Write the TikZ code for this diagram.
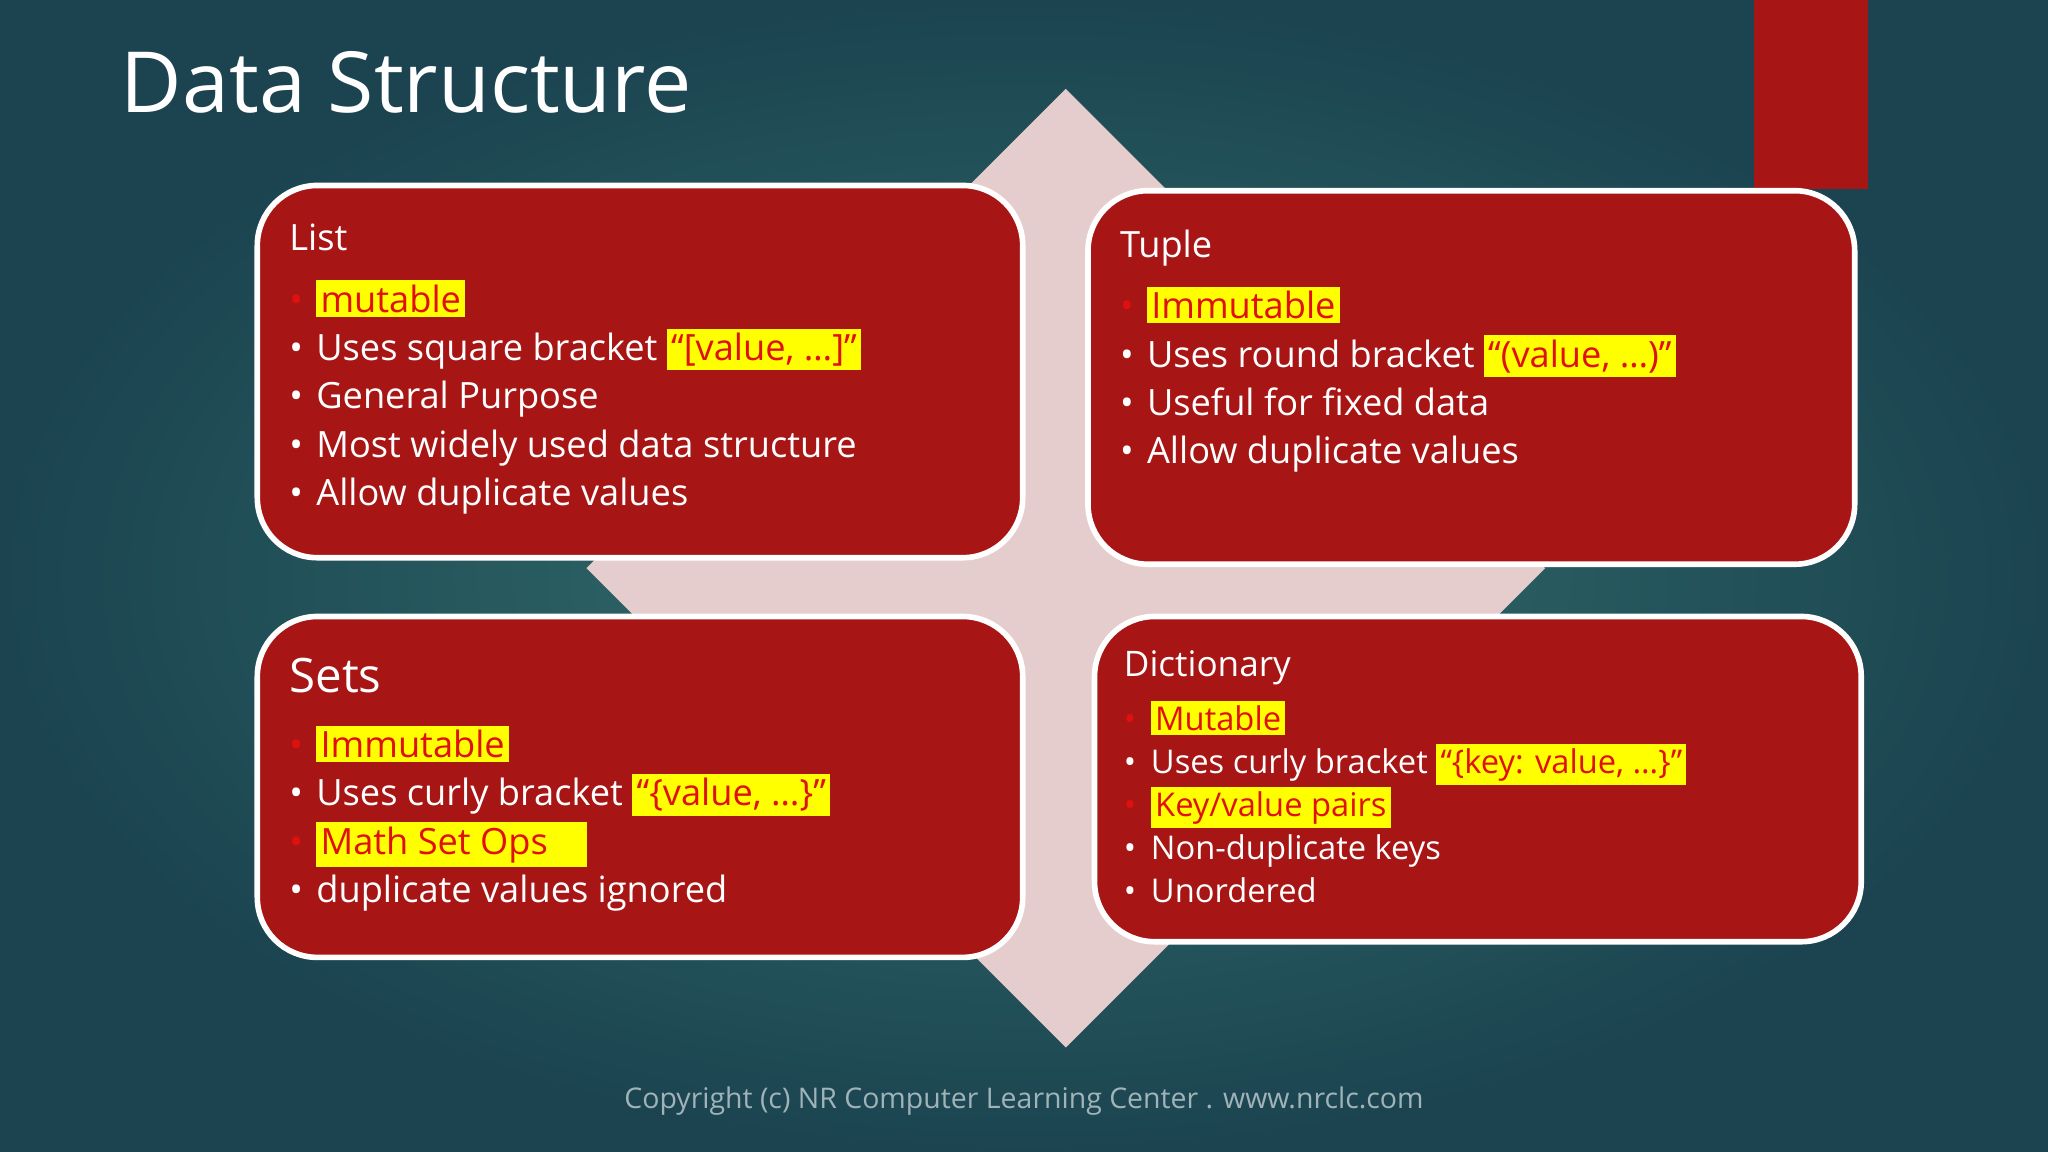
\documentclass[tikz,border=0pt]{standalone}
\usepackage{fontspec}
\setmainfont{Open Sans}
\usetikzlibrary{positioning,calc,math}
\definecolor{bgdark}{HTML}{1B4450}
\definecolor{bglight}{HTML}{34706F}
\definecolor{boxred}{HTML}{A81515}
\definecolor{diam}{HTML}{E6CDCD}
\definecolor{hly}{HTML}{FFFF00}
\definecolor{hlr}{HTML}{E01010}
\definecolor{foot}{HTML}{9FB3B8}
\newcommand{\hl}[1]{{\setlength{\fboxsep}{1.2pt}\colorbox{hly}{\textcolor{hlr}{#1}}}}
\newcommand{\itm}[2]{\hbox to 0.27cm{\textcolor{#1}{\textbullet}\hss}#2}
\tikzset{
    card/.style={draw=white, line width=1.6pt, fill=boxred, rounded corners=0.6cm},
    line/.style={anchor=base west, inner sep=0pt, text=white, font=\fontsize{10.3}{12}\selectfont},
    dline/.style={line, font=\fontsize{9.3}{11}\selectfont},
}
\begin{document}
\begin{tikzpicture}[x=0.013061cm, y=-0.013061cm]

  % background
  \shade[inner color=bglight, outer color=bgdark] (0,0) rectangle (1568,882);
  \useasboundingbox (0,0) rectangle (1568,882);

  % title and red tab
  \node[anchor=base west, inner sep=0pt, text=white, font=\fontsize{24}{28}\selectfont] (title) at (92,86) {Data Structure};
  \fill[boxred] (1343,0) rectangle (1430,145);

  % diamond behind the cards
  \fill[diam] (816,68) -- (1183,435) -- (816,802) -- (449,435) -- cycle;

  % -----
  % Cards
  % -----
  \draw[card] (197,142) rectangle (783,427);
  \draw[card] (833,146) rectangle (1420,432);
  \draw[card] (197,472) rectangle (783,733);
  \draw[card] (838,472) rectangle (1425,721);

  % List
  \node[line] (list) at (221,192) {List};
  \node[line] (list1) at (221,239) {\itm{hlr}{\hl{mutable}}};
  \node[line] (list2) at (221,276) {\itm{white}{Uses square bracket \hl{“[value, …]”}}};
  \node[line] (list3) at (221,313) {\itm{white}{General Purpose}};
  \node[line] (list4) at (221,350) {\itm{white}{Most widely used data structure}};
  \node[line] (list5) at (221,387) {\itm{white}{Allow duplicate values}};

  % Tuple
  \node[line] (tuple) at (857,197) {Tuple};
  \node[line] (tuple1) at (857,244) {\itm{hlr}{\hl{Immutable}}};
  \node[line] (tuple2) at (857,281) {\itm{white}{Uses round bracket \hl{“(value, …)”}}};
  \node[line] (tuple3) at (857,318) {\itm{white}{Useful for fixed data}};
  \node[line] (tuple4) at (857,355) {\itm{white}{Allow duplicate values}};

  % Sets
  \node[line, font=\fontsize{13.5}{16}\selectfont] (sets) at (221,530) {Sets};
  \node[line] (sets1) at (221,580) {\itm{hlr}{\hl{Immutable}}};
  \node[line] (sets2) at (221,617) {\itm{white}{Uses curly bracket \hl{“\{value, …\}”}}};
  \node[line] (sets3) at (221,654) {\itm{hlr}{\hl{Math Set Ops\hspace{10pt}}}};
  \node[line] (sets4) at (221,691) {\itm{white}{duplicate values ignored}};

  % Dictionary
  \node[line, font=\fontsize{10}{12}\selectfont] (dict) at (860,518) {Dictionary};
  \node[dline] (dict1) at (860,559) {\itm{hlr}{\hl{Mutable}}};
  \node[dline] (dict2) at (860,592) {\itm{white}{Uses curly bracket \hl{“\{key: value, …\}”}}};
  \node[dline] (dict3) at (860,625) {\itm{hlr}{\hl{Key/value pairs}}};
  \node[dline] (dict4) at (860,658) {\itm{white}{Non-duplicate keys}};
  \node[dline] (dict5) at (860,691) {\itm{white}{Unordered}};

  % footer
  \node[text=foot, inner sep=0pt, font=\fontsize{8.1}{10}\selectfont] (copy) at (784,843) {Copyright (c) NR Computer Learning Center . www.nrclc.com};

\end{tikzpicture}
\end{document}
